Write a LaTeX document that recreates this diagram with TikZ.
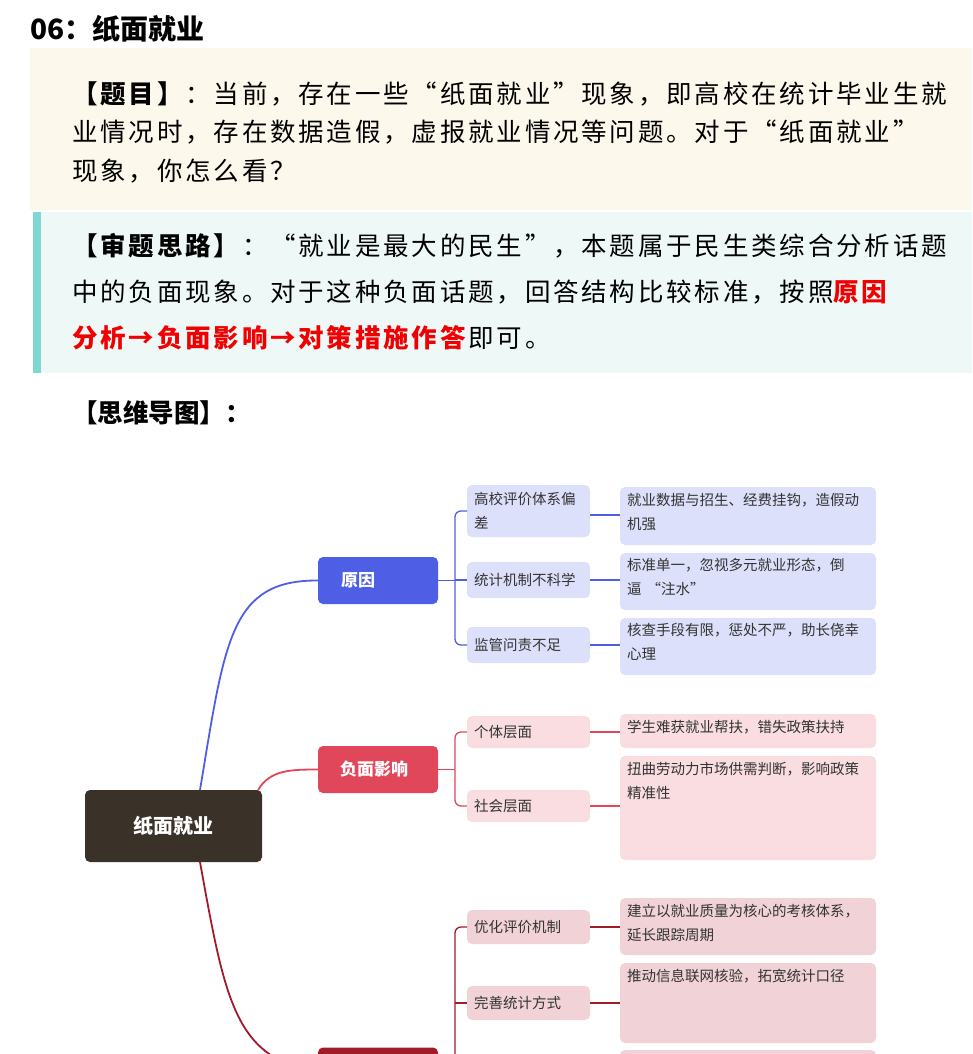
\documentclass[tikz,border=0pt]{standalone}
\usepackage{fontspec}
\setmainfont{Noto Sans CJK SC}
\definecolor{beige}{HTML}{FDF8EC}
\definecolor{teal1}{HTML}{EEF8F7}
\definecolor{tealbar}{HTML}{7ED8CF}
\definecolor{rootc}{HTML}{3A3129}
\definecolor{bluec}{HTML}{4E5FE6}
\definecolor{bluel}{HTML}{DCE0FA}
\definecolor{redc}{HTML}{E1475B}
\definecolor{redl}{HTML}{F9DDE1}
\definecolor{darkr}{HTML}{A11B2B}
\definecolor{darkl}{HTML}{F1D3D7}
\definecolor{txt}{HTML}{333333}
\definecolor{hl}{HTML}{F00000}
\tikzset{
  box/.style={rounded corners=5pt,inner sep=0pt,outer sep=0pt},
  para/.style={anchor=base west,inner sep=0pt,font=\fontsize{25.5}{30}\selectfont\addfontfeature{LetterSpace=11}},
  l2t/.style={anchor=west,inner sep=0pt,text=txt,font=\fontsize{14.5}{24}\selectfont,align=left},
  l3t/.style={anchor=north west,inner sep=0pt,text=txt,font=\fontsize{14.5}{24}\selectfont,align=left,text width=240pt},
  conn/.style={line width=1.6pt,rounded corners=6pt},
}
\begin{document}
\begin{tikzpicture}[x=1pt,y=-1pt]
\useasboundingbox (0,0) rectangle (972,1054);
\clip (0,0) rectangle (972,1054);
% header
\node[anchor=base west,inner sep=0pt,font=\fontsize{28}{30}\selectfont\bfseries] (title) at (30,40) {06：纸面就业};
\fill[beige] (30,48) rectangle (972,210);
\node[para] (q1) at (72,103) {\textbf{【题目】}：当前，存在一些“纸面就业”现象，即高校在统计毕业生就};
\node[para] (q2) at (72,141) {业情况时，存在数据造假，虚报就业情况等问题。对于“纸面就业”};
\node[para] (q3) at (72,180) {现象，你怎么看？};
\fill[teal1] (33,212) rectangle (972,373);
\fill[tealbar] (33,212) rectangle (41,373);
\node[para] (a1) at (72,255) {\textbf{【审题思路】}：“就业是最大的民生”，本题属于民生类综合分析话题};
\node[para] (a2) at (72,301) {中的负面现象。对于这种负面话题，回答结构比较标准，按照\textcolor{hl}{\textbf{原因}}};
\node[para] (a3) at (72,347) {\textcolor{hl}{\textbf{分析→负面影响→对策措施作答}}即可。};
\node[anchor=base west,inner sep=0pt,font=\fontsize{25.5}{30}\selectfont\bfseries] (mm) at (72,422) {【思维导图】：};
% root and level 1
\node[box,fill=rootc,minimum width=177pt,minimum height=72pt,text=white,font=\fontsize{20}{24}\selectfont\bfseries] (root) at (173.5,826) {纸面就业};
\node[box,fill=bluec,minimum width=120pt,minimum height=47pt,text=white,font=\fontsize{17}{20}\selectfont\bfseries] (yy) at (378,580.5) {\hspace*{-40pt}原因};
\node[box,fill=redc,minimum width=120pt,minimum height=47pt,text=white,font=\fontsize{17}{20}\selectfont\bfseries] (fm) at (378,769.5) {\hspace*{-8pt}负面影响};
\node[box,fill=darkr,minimum width=120pt,minimum height=47pt] (dc) at (378,1071) {};
% root connectors
\draw[bluec,line width=1.8pt] (200,790) .. controls (225,640) and (230,580) .. (yy.west);
\draw[redc,line width=1.8pt] (258,790) .. controls (270,770) and (290,769.5) .. (fm.west);
\draw[darkr,line width=1.8pt] (200,862) .. controls (225,1000) and (235,1060) .. (dc.west);
% level 2 / 3 blue
\foreach \n/\yc/\h/\t in {b1/511/52/{高校评价体系偏\\差},b2/580/36/统计机制不科学,b3/645/36/监管问责不足}{
  \fill[bluel,rounded corners=5pt] (467,\yc-\h/2) rectangle (590,\yc+\h/2);
  \node[l2t] (\n) at (474,\yc) {\t};
}
\fill[bluel,rounded corners=5pt] (620,487) rectangle (876,545);
\node[l3t] (c1) at (627,493) {就业数据与招生、经费挂钩，造假动\\机强};
\fill[bluel,rounded corners=5pt] (620,553) rectangle (876,610);
\node[l3t] (c2) at (627,558) {标准单一，忽视多元就业形态，倒\\逼 “注水”};
\fill[bluel,rounded corners=5pt] (620,618) rectangle (876,675);
\node[l3t] (c3) at (627,623) {核查手段有限，惩处不严，助长侥幸\\心理};
\draw[conn,bluec,line width=1.3pt] (438,580.5) -- (455,580.5);
\draw[conn,bluec,line width=1.3pt] (467,511) -- (455,511) -- (455,645) -- (467,645);
\draw[bluec,line width=1.3pt] (455,580) -- (467,580);
\foreach \y in {515,580,645}{\draw[bluec,line width=1.3pt] (590,\y) -- (620,\y);}
% red
\fill[redl,rounded corners=5pt] (467,716) rectangle (590,748);
\node[l2t] (r1) at (474,732) {个体层面};
\fill[redl,rounded corners=5pt] (467,790) rectangle (590,822);
\node[l2t] (r2) at (474,806) {社会层面};
\fill[redl,rounded corners=5pt] (620,714) rectangle (876,748);
\node[l3t] (d1) at (627,720) {学生难获就业帮扶，错失政策扶持};
\fill[redl,rounded corners=5pt] (620,756) rectangle (876,860);
\node[l3t] (d2) at (627,762) {扭曲劳动力市场供需判断，影响政策\\精准性};
\draw[redc,line width=1.3pt] (438,769.5) -- (455,769.5);
\draw[conn,redc,line width=1.3pt] (467,732) -- (455,732) -- (455,806) -- (467,806);
\draw[redc,line width=1.3pt] (590,732) -- (620,732);
\draw[redc,line width=1.3pt] (590,806) -- (620,806);
% dark red
\fill[darkl,rounded corners=5pt] (467,910) rectangle (590,944);
\node[l2t] (s1) at (474,927) {优化评价机制};
\fill[darkl,rounded corners=5pt] (467,986) rectangle (590,1020);
\node[l2t] (s2) at (474,1003) {完善统计方式};
\fill[darkl,rounded corners=5pt] (620,898) rectangle (876,955);
\node[l3t] (e1) at (627,904) {建立以就业质量为核心的考核体系，\\延长跟踪周期};
\fill[darkl,rounded corners=5pt] (620,963) rectangle (876,1043);
\node[l3t] (e2) at (627,969) {推动信息联网核验，拓宽统计口径};
\fill[darkl,rounded corners=5pt] (620,1050) rectangle (876,1110);
\draw[conn,darkr,line width=1.3pt] (467,927) -- (455,927) -- (455,1070);
\draw[darkr,line width=1.3pt] (455,1003) -- (467,1003);
\draw[darkr,line width=1.3pt] (590,927) -- (620,927);
\draw[darkr,line width=1.3pt] (590,1003) -- (620,1003);
\end{tikzpicture}
\end{document}
